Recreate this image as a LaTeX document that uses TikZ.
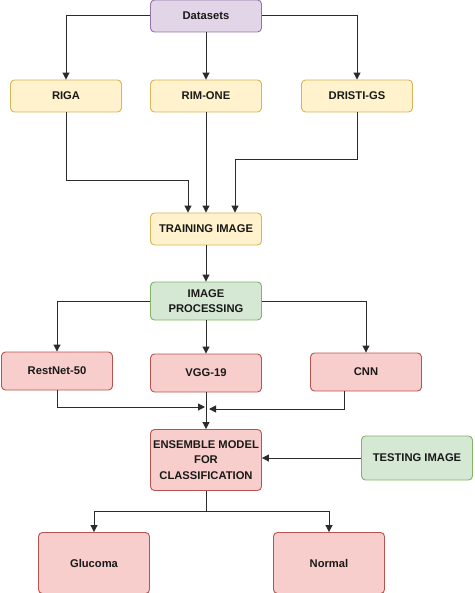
\documentclass[tikz,border=0pt]{standalone}
\usepackage{fontspec}
\setmainfont{Liberation Sans}
\usetikzlibrary{arrows.meta,positioning}
\definecolor{purplefill}{HTML}{E1D5E7}
\definecolor{purpleline}{HTML}{9673A6}
\definecolor{yellowfill}{HTML}{FFF2CC}
\definecolor{yellowline}{HTML}{D6B656}
\definecolor{greenfill}{HTML}{D5E8D4}
\definecolor{greenline}{HTML}{82B366}
\definecolor{redfill}{HTML}{F8CECC}
\definecolor{redline}{HTML}{B85450}
\definecolor{wire}{HTML}{2B2B2B}

\begin{document}
\begin{tikzpicture}[x=1pt,y=-1pt,
  box/.style={draw,rounded corners=4pt,line width=0.9pt,minimum width=111pt,minimum height=32pt,
    align=center,font=\fontsize{11.2}{15.5}\selectfont\bfseries,text=black!90,inner sep=1pt},
  arr/.style={-{Triangle[length=7pt,width=7pt]},line width=1pt,wire}]
\useasboundingbox (0,0) rectangle (474,593);
% datasets
\node[box,fill=purplefill,draw=purpleline] (data) at (206,16) {Datasets};
\node[box,fill=yellowfill,draw=yellowline] (riga) at (66,96) {RIGA};
\node[box,fill=yellowfill,draw=yellowline] (rim) at (206,96) {RIM-ONE};
\node[box,fill=yellowfill,draw=yellowline] (dristi) at (357,96) {DRISTI-GS};
\node[box,fill=yellowfill,draw=yellowline] (train) at (206,229) {TRAINING IMAGE};
\node[box,fill=greenfill,draw=greenline,minimum height=38pt] (proc) at (206,301) {IMAGE\\PROCESSING};
% models
\node[box,fill=redfill,draw=redline,minimum height=38pt] (resnet) at (57,371) {RestNet-50};
\node[box,fill=redfill,draw=redline,minimum height=38pt] (vgg) at (206,373) {VGG-19};
\node[box,fill=redfill,draw=redline,minimum height=38pt] (cnn) at (366,372) {CNN};
\node[box,fill=redfill,draw=redline,minimum height=61pt] (ens) at (206,460) {ENSEMBLE MODEL\\FOR\\CLASSIFICATION};
\node[box,fill=greenfill,draw=greenline,minimum height=44pt] (test) at (417,458) {TESTING IMAGE};
\node[box,fill=redfill,draw=redline,minimum height=61pt] (glau) at (94,563) {Glucoma};
\node[box,fill=redfill,draw=redline,minimum height=61pt] (norm) at (329,563) {Normal};
% connectors
\coordinate (j1) at (188,181);
\coordinate (j2) at (235,160);
\coordinate (m1) at (205,407);
\coordinate (m2) at (209,409);
\draw[arr] (data.west) -| (riga.north);
\draw[arr] (data) -- (rim);
\draw[arr] (data.east) -| (dristi.north);
\draw[arr] (riga.south) |- (j1) -- (j1 |- train.north);
\draw[arr] (rim) -- (train);
\draw[arr] (dristi.south) |- (j2) -- (j2 |- train.north);
\draw[arr] (train) -- (proc);
\draw[arr] (proc.west) -| (resnet.north);
\draw[arr] (proc) -- (vgg);
\draw[arr] (proc.east) -| (cnn.north);
\draw[arr] (resnet.south) |- (m1);
\draw[arr] (cnn.south) ++(-22,0) |- (m2);
\draw[arr] (vgg) -- (ens);
\draw[arr] (test.west) -- (test.west -| ens.east);
\draw[arr] (ens.south) -- ++(0,21) -| (glau.north);
\draw[arr] (ens.south) -- ++(0,21) -| (norm.north);
\end{tikzpicture}
\end{document}
